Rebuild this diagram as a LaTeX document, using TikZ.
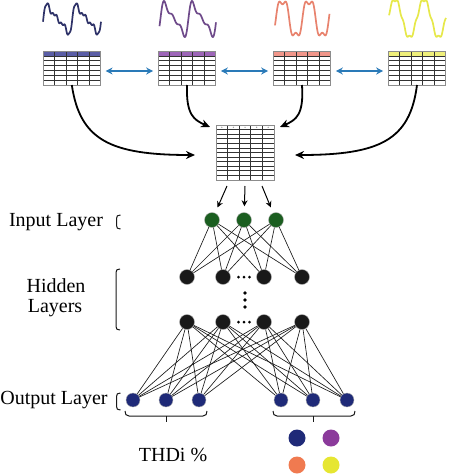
\documentclass[tikz,border=0pt]{standalone}
\usepackage{fontspec}
\setmainfont{Liberation Serif}
\usetikzlibrary{arrows.meta}
\definecolor{hd1}{HTML}{5B5EA6}
\definecolor{hd2}{HTML}{9D65B8}
\definecolor{hd3}{HTML}{F1968A}
\definecolor{hd4}{HTML}{EFEF7A}
\definecolor{wv1}{HTML}{2E3268}
\definecolor{wv2}{HTML}{6E4A8A}
\definecolor{wv3}{HTML}{E8836E}
\definecolor{wv4}{HTML}{E6E84A}
\definecolor{arrowblue}{HTML}{2A7AB8}
\definecolor{ingreen}{HTML}{1B5E20}
\definecolor{outnavy}{HTML}{1F2A78}
\definecolor{lgnavy}{HTML}{1F2A78}
\definecolor{lgpurple}{HTML}{8B3A9B}
\definecolor{lgorange}{HTML}{F07A50}
\definecolor{lgyellow}{HTML}{E6E632}
\newcommand{\smalltab}[2]{%
\begin{scope}[shift={(#1.north west)}]
\fill[#2] (0,0) rectangle (57.6,5);
\foreach \r in {5,9.83,14.67,19.5,24.33,29.17} \draw[gridline] (0,\r) -- (57.6,\r);
\foreach \c in {1,2,3,4} \draw[gridline] (\c*11.52,0) -- (\c*11.52,34);
\draw[tabborder] (0,0) rectangle (57.6,34);
\end{scope}}
\newcommand{\bigtab}[1]{%
\begin{scope}[shift={(#1.north west)}]
\foreach \r in {1,...,11} \draw[gridline] (0,\r*4.583) -- (58,\r*4.583);
\foreach \c in {1,2,3,4} \draw[gridline] (\c*11.6,0) -- (\c*11.6,55);
\foreach \c in {0,...,4} \fill[black!40] (\c*11.6+5.8,2.3) circle (0.7pt);
\draw[tabborder] (0,0) rectangle (58,55);
\end{scope}}
\begin{document}
\begin{tikzpicture}[x=1pt,y=-1pt,
  tabnode/.style={rectangle,inner sep=0pt,outer sep=0pt,minimum width=57.6pt,minimum height=34pt},
  gridline/.style={draw=black!80,line width=0.7pt},
  tabborder/.style={draw=black!45,line width=0.8pt},
  wavestyle/.style={line width=1.7pt,line join=round},
  curvearrow/.style={line width=1.8pt,-{Stealth[length=9pt,width=8pt]}},
  bluearrow/.style={draw=arrowblue,line width=1.8pt,{Stealth[length=7pt,width=7pt]}-{Stealth[length=7pt,width=7pt]}},
  downarrow/.style={line width=1pt,-{Stealth[length=6pt,width=6pt]},shorten >=6pt},
  neuron/.style={circle,inner sep=0pt,minimum size=15pt,draw=black!30,line width=0.4pt},
  innode/.style={neuron,fill=ingreen},
  hidnode/.style={neuron,fill=black!90},
  outnode/.style={neuron,fill=outnavy,minimum size=14pt},
  edge/.style={line width=0.65pt,black!90},
  lbl/.style={font=\fontsize{20}{22}\selectfont,text=black,inner sep=0pt},
  brk/.style={line width=1pt,black!90},
  legend/.style={circle,inner sep=0pt,minimum size=17pt}]
\useasboundingbox (0,0) rectangle (474,474);

% waves
\draw[wavestyle,wv1] plot[domain=43:101,samples=240,variable=\u]
  (\u,{19-11*(sin(360*((\u-43.3)/29))+sin(720*((\u-43.3)/29))/2+sin(1080*((\u-43.3)/29))/3+0.12*sin(2520*((\u-43.3)/29)))});
\draw[wavestyle,wv2] plot[domain=159.5:216,samples=240,variable=\u]
  (\u,{19-12.7*(sin(360*((\u-160.4)/28))+0.5*sin(720*((\u-160.4)/28))+0.3*sin(1080*((\u-160.4)/28)))});
\draw[wavestyle,wv3] plot[domain=275:329.5,samples=240,variable=\u]
  (\u,{18.5-19*(sin(360*((\u-275.9)/26.5))+0.25*sin(1080*((\u-275.9)/26.5)))});
\draw[wavestyle,wv4] plot[domain=389:446,samples=240,variable=\u]
  (\u,{18.5-19*(sin(360*((\u-387.75)/29))-0.1*sin(1800*((\u-387.75)/29)))});

% tables
\node[tabnode] (t1) at (71.8,68) {};
\node[tabnode] (t2) at (187,68) {};
\node[tabnode] (t3) at (302,68) {};
\node[tabnode] (t4) at (417,68) {};
\smalltab{t1}{hd1}
\smalltab{t2}{hd2}
\smalltab{t3}{hd3}
\smalltab{t4}{hd4}
\node[rectangle,inner sep=0pt,outer sep=0pt,minimum width=58pt,minimum height=55pt] (c) at (245,152.5) {};
\bigtab{c}

% blue arrows
\draw[bluearrow] ([shift={(5,3)}]t1.east) -- ([shift={(-5,3)}]t2.west);
\draw[bluearrow] ([shift={(5,3)}]t2.east) -- ([shift={(-5,3)}]t3.west);
\draw[bluearrow] ([shift={(5,3)}]t3.east) -- ([shift={(-5,3)}]t4.west);

% curved arrows
\coordinate (c1in) at (195,155);
\coordinate (c2in) at (210,127);
\coordinate (c3in) at (280,127);
\coordinate (c4in) at (295,155);
\draw[curvearrow] (t1.south) .. controls (80,140) and (110,155) .. (c1in);
\draw[curvearrow] (t2.south) .. controls (186,115) and (194,120) .. (c2in);
\draw[curvearrow] (t3.south) .. controls (304,115) and (296,120) .. (c3in);
\draw[curvearrow] (t4.south) .. controls (410,140) and (380,155) .. (c4in);

% neurons
\node[innode] (i1) at (212,220) {};
\node[innode] (i2) at (244,220) {};
\node[innode] (i3) at (276,220) {};
\node[hidnode] (h1) at (187,277) {};
\node[hidnode] (h2) at (223,277) {};
\node[hidnode] (h3) at (264,277) {};
\node[hidnode] (h4) at (302,277) {};
\node[hidnode] (g1) at (187,322) {};
\node[hidnode] (g2) at (223,322) {};
\node[hidnode] (g3) at (264,322) {};
\node[hidnode] (g4) at (302,322) {};
\node[outnode] (o1) at (133,400) {};
\node[outnode] (o2) at (166,400) {};
\node[outnode] (o3) at (199,400) {};
\node[outnode] (o4) at (281,400) {};
\node[outnode] (o5) at (313,400) {};
\node[outnode] (o6) at (347,400) {};

% down arrows
\draw[downarrow] ([shift={(-18,6)}]c.south) -- (i1);
\draw[downarrow] ([shift={(0,6)}]c.south) -- (i2);
\draw[downarrow] ([shift={(17,6)}]c.south) -- (i3);

% edges
\foreach \a in {1,2,3} \foreach \b in {1,2,3,4} \draw[edge] (i\a) -- (h\b);
\foreach \a in {1,2,3,4} \foreach \b in {1,...,6} \draw[edge] (g\a) -- (o\b);

% dots
\foreach \xx in {238.5,244,249.5} {\fill (\xx,277) circle (1.5pt); \fill (\xx,322) circle (1.5pt);}
\foreach \yy in {293,300,307} \fill (245,\yy) circle (1.8pt);

% labels
\node[lbl] (lin) at (56,222) {Input Layer};
\node[lbl] (lhid) at (56,286) {Hidden};
\node[lbl] (llay) at (55,308) {Layers};
\node[lbl] (lout) at (54,400) {Output Layer};
\node[lbl] (lthd) at (173,455) {THDi \%};

% brackets
\draw[brk] (120.5,215) .. controls (117.5,215) and (116.5,216) .. (116.5,218.5) -- (116.5,225.5) .. controls (116.5,228) and (117.5,229) .. (120.5,229);
\draw[brk] (120,269) .. controls (117,269) and (116,270) .. (116,272.5) -- (116,326.5) .. controls (116,329) and (117,330) .. (120,330);
\draw[brk] (120.5,393) .. controls (117.5,393) and (116.5,394) .. (116.5,396.5) -- (116.5,406.5) .. controls (116.5,409) and (117.5,410) .. (120.5,410);
\draw[brk] (125,411) .. controls (125,414) and (126,416) .. (129,416) -- (203,416) .. controls (206,416) and (207,414) .. (207,411);
\draw[brk] (166,416) -- (166,422);
\draw[brk] (273,411) .. controls (273,414) and (274,416) .. (277,416) -- (351,416) .. controls (354,416) and (355,414) .. (355,411);
\draw[brk] (313,416) -- (313,422);

% legend circles
\node[legend,fill=lgnavy] (k1) at (297,438) {};
\node[legend,fill=lgpurple] (k2) at (331,438) {};
\node[legend,fill=lgorange] (k3) at (297,465) {};
\node[legend,fill=lgyellow] (k4) at (331,465) {};
\end{tikzpicture}
\end{document}
